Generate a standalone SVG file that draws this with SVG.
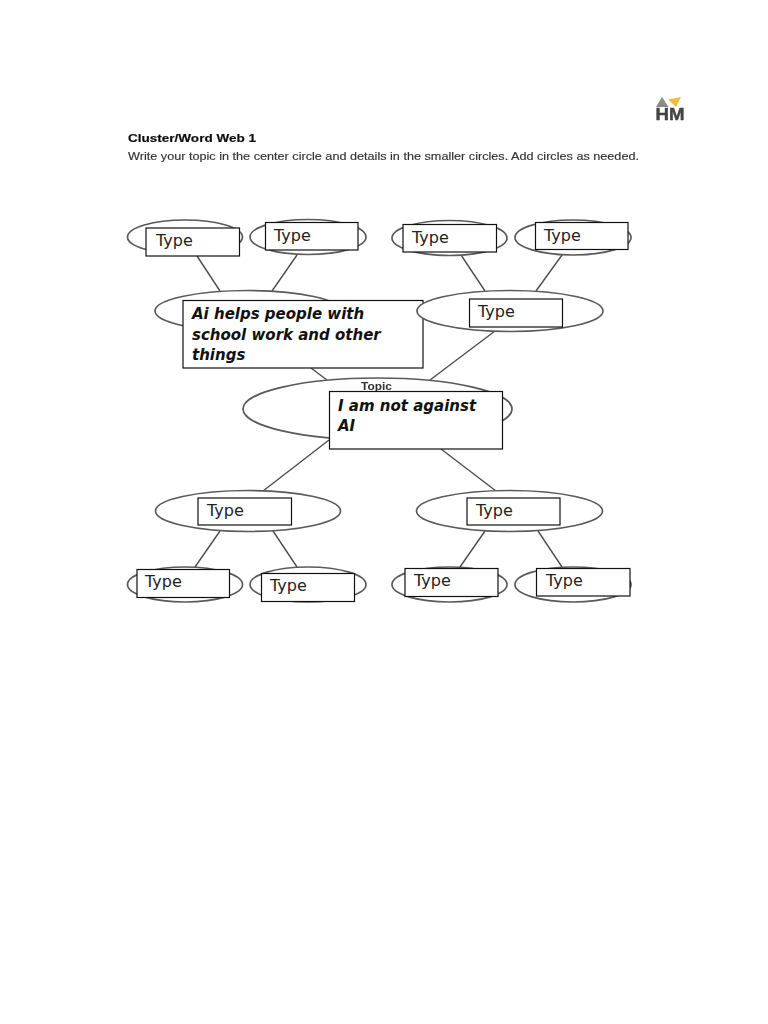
<svg xmlns="http://www.w3.org/2000/svg" width="768" height="1024" viewBox="0 0 768 1024">
<style>
.e{fill:#fff;stroke:#5a5a5a;stroke-width:1.7}
.c line{stroke:#4d4d4d;stroke-width:1.4}
.b{fill:#fff;stroke:#111;stroke-width:1.2}
.t{font-family:"DejaVu Sans",sans-serif;font-size:16px;fill:#222}
.i{font-family:"DejaVu Sans",sans-serif;font-size:15px;font-weight:bold;font-style:italic;fill:#111}
.h{font-family:"Liberation Sans",Arial,sans-serif}
</style>
<defs><filter id="s" x="-5%" y="-30%" width="110%" height="160%"><feGaussianBlur stdDeviation="0.45"/></filter></defs>
<rect width="768" height="1024" fill="#fff"/>
<g id="logo" filter="url(#s)">
<polygon points="662,97 668.500,107 656,107" fill="#8a8a8a"/>
<polygon points="668,99.500 681,97 676,107" fill="#f0bd3c"/>
<text class="h" x="655.500" y="120" font-size="16" font-weight="bold" fill="#444" stroke="#444" stroke-width="0.4" textLength="29" lengthAdjust="spacingAndGlyphs">HM</text>
</g>
<g id="heading" filter="url(#s)">
<text class="h" x="128" y="142" font-size="11" font-weight="bold" fill="#111" stroke="#111" stroke-width="0.2" textLength="128" lengthAdjust="spacingAndGlyphs">Cluster/Word Web 1</text>
<text class="h" x="128" y="160" font-size="10.500" fill="#333" stroke="#333" stroke-width="0.15" textLength="511" lengthAdjust="spacingAndGlyphs">Write your topic in the center circle and details in the smaller circles. Add circles as needed.</text>
</g>
<g id="connectors" class="c">
<line x1="197" y1="256" x2="220" y2="291"/>
<line x1="297" y1="255" x2="272" y2="291"/>
<line x1="461" y1="255" x2="485" y2="291"/>
<line x1="562" y1="255" x2="536" y2="291"/>
<line x1="495" y1="331" x2="430" y2="380"/>
<line x1="311" y1="368" x2="327" y2="380"/>
<line x1="329" y1="440" x2="263" y2="491"/>
<line x1="441" y1="449" x2="496" y2="491"/>
<line x1="220" y1="531" x2="195" y2="567"/>
<line x1="273" y1="531" x2="297" y2="567"/>
<line x1="485" y1="531" x2="460" y2="567"/>
<line x1="538" y1="531" x2="562" y2="567"/>
</g>
<g id="node-tl1"><ellipse class="e" cx="185" cy="237" rx="57.500" ry="17"/><rect class="b" x="146" y="228" width="93.500" height="28"/><text class="t" x="156" y="246">Type</text></g>
<g id="node-tl2"><ellipse class="e" cx="308" cy="237" rx="58" ry="17.500"/><rect class="b" x="265.500" y="222.500" width="92.500" height="27.500"/><text class="t" x="274" y="241">Type</text></g>
<g id="node-tr1"><ellipse class="e" cx="449.500" cy="238" rx="57.500" ry="17.500"/><rect class="b" x="403" y="224.500" width="93.500" height="27.500"/><text class="t" x="412" y="243">Type</text></g>
<g id="node-tr2"><ellipse class="e" cx="573" cy="237.500" rx="58" ry="17.500"/><rect class="b" x="535.500" y="222.500" width="92.500" height="27"/><text class="t" x="544" y="241">Type</text></g>
<g id="node-ml"><ellipse class="e" cx="248" cy="311" rx="93" ry="20.500"/><rect class="b" x="183" y="300.500" width="240" height="67.500"/><text class="i" x="192" y="319">Ai helps people with</text><text class="i" x="192" y="339.500">school work and other</text><text class="i" x="192" y="360">things</text></g>
<g id="node-mr"><ellipse class="e" cx="510" cy="311" rx="93" ry="20.500"/><rect class="b" x="469.500" y="299" width="93" height="28"/><text class="t" x="478" y="317">Type</text></g>
<g id="node-center"><ellipse class="e" cx="377.500" cy="409" rx="134.500" ry="31"/><text class="h" x="361" y="389.500" font-size="10" font-weight="bold" fill="#333" filter="url(#s)" textLength="31" lengthAdjust="spacingAndGlyphs">Topic</text><rect class="b" x="329.500" y="391.500" width="173" height="57.500"/><text class="i" x="338" y="411">I am not against</text><text class="i" x="338" y="431">AI</text></g>
<g id="node-bl"><ellipse class="e" cx="248" cy="511" rx="92.500" ry="20.500"/><rect class="b" x="198" y="498" width="93.500" height="27"/><text class="t" x="207" y="516">Type</text></g>
<g id="node-br"><ellipse class="e" cx="509.500" cy="511" rx="93" ry="20.500"/><rect class="b" x="467" y="498" width="93" height="27"/><text class="t" x="476" y="516">Type</text></g>
<g id="node-bl1"><ellipse class="e" cx="185" cy="584.500" rx="57.500" ry="17.500"/><rect class="b" x="137" y="569.500" width="92.500" height="28"/><text class="t" x="145" y="587">Type</text></g>
<g id="node-bl2"><ellipse class="e" cx="308" cy="584.500" rx="58" ry="17.500"/><rect class="b" x="261.500" y="573.500" width="93" height="28"/><text class="t" x="270" y="591">Type</text></g>
<g id="node-br1"><ellipse class="e" cx="449.500" cy="584.500" rx="57.500" ry="17.500"/><rect class="b" x="405" y="568.500" width="93" height="28"/><text class="t" x="414" y="586">Type</text></g>
<g id="node-br2"><ellipse class="e" cx="573" cy="584.500" rx="58" ry="17.500"/><rect class="b" x="536.500" y="568.500" width="93.500" height="27.500"/><text class="t" x="546" y="586">Type</text></g>
</svg>
